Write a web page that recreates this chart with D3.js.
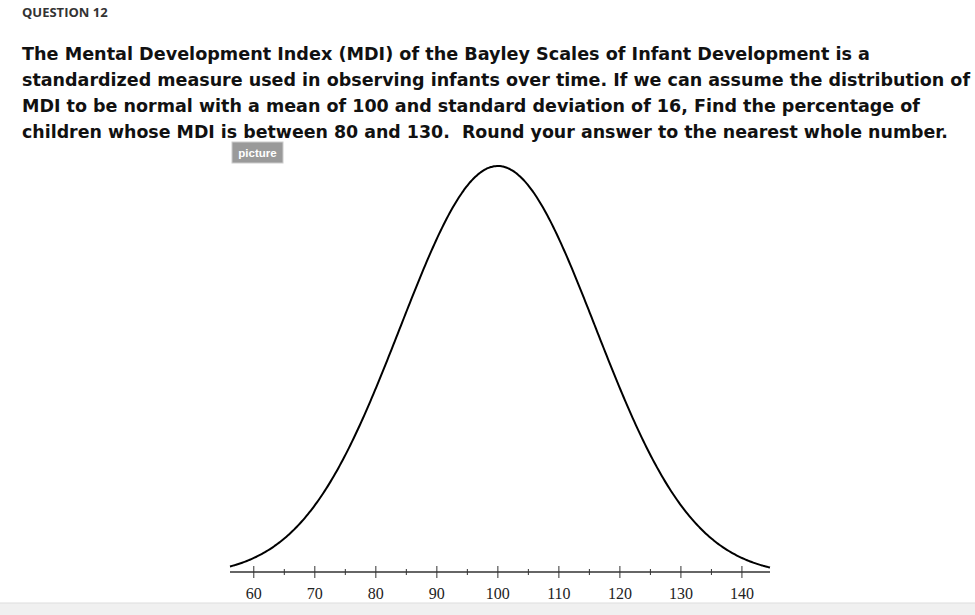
<!DOCTYPE html><html><head><meta charset="utf-8"><script src="https://cdn.jsdelivr.net/npm/d3@7"></script>
<style>body{margin:0;background:#fff}svg{display:block}text{white-space:pre}</style></head><body><svg id="c" width="975" height="615"></svg>
<script>
const header = "QUESTION 12";
const questionLines = [
 "The Mental Development Index (MDI) of the Bayley Scales of Infant Development is a",
 "standardized measure used in observing infants over time. If we can assume the distribution of",
 "MDI to be normal with a mean of 100 and standard deviation of 16, Find the percentage of",
 "children whose MDI is between 80 and 130.  Round your answer to the nearest whole number."
];
const lineWidths = [848, 948, 898, 926];
const mean = 100, sd = 16;
const majorTicks = [60,70,80,90,100,110,120,130,140];
const minorTicks = [65,75,85,95,105,115,125,135];
const domain = [56.1, 144.6];

const svg = d3.select("#c");
svg.append("text").attr("x",22).attr("y",17).attr("font-family","Open Sans").attr("font-weight","bold")
  .attr("font-size",13).attr("fill","#333").text(header);
questionLines.forEach((t,i)=>svg.append("text").attr("x",22).attr("y",60+i*26)
  .attr("font-family","DejaVu Sans").attr("font-weight","bold").attr("font-size",17).attr("fill","#111")
  .attr("textLength",lineWidths[i]).attr("lengthAdjust","spacingAndGlyphs").text(t));
const b = svg.append("g");
b.append("rect").attr("x",232).attr("y",142).attr("width",51).attr("height",21).attr("fill","#9a9a9a").attr("stroke","#ccc");
b.append("text").attr("x",257.5).attr("y",157).attr("text-anchor","middle").attr("font-family","Arial, Liberation Sans")
  .attr("font-weight","bold").attr("font-size",11.5).attr("fill","#fff").text("picture");

const x = d3.scaleLinear().domain(domain).range([230,770]);
const pdf = v=>Math.exp(-0.5*((v-mean)/sd)**2);
const y = d3.scaleLinear().domain([0,1]).range([576,166]);
const pts = d3.range(domain[0], domain[1]+0.01, 0.25);
svg.append("path").datum(pts).attr("fill","none").attr("stroke","#000").attr("stroke-width",2)
  .attr("d", d3.line().x(d=>x(d)).y(d=>y(pdf(d))).curve(d3.curveBasis));

const ax = svg.append("g").attr("transform","translate(0,572)");
ax.append("line").attr("x1",230).attr("x2",770).attr("stroke","#333").attr("stroke-width",1.3);
ax.selectAll(".mj").data(majorTicks).join("line").attr("x1",d=>x(d)).attr("x2",d=>x(d)).attr("y1",-6).attr("y2",6).attr("stroke","#333");
ax.selectAll(".mn").data(minorTicks).join("line").attr("x1",d=>x(d)).attr("x2",d=>x(d)).attr("y1",-3).attr("y2",3).attr("stroke","#333");
ax.selectAll("text").data(majorTicks).join("text").attr("x",d=>x(d)).attr("y",27).attr("text-anchor","middle")
  .attr("font-family","Liberation Serif").attr("font-size",16).attr("fill","#222").text(d=>d);

svg.append("rect").attr("x",0).attr("y",603).attr("width",975).attr("height",12).attr("fill","#f0f0f0");
svg.append("line").attr("x1",0).attr("x2",975).attr("y1",603).attr("y2",603).attr("stroke","#ddd");
</script></body></html>
